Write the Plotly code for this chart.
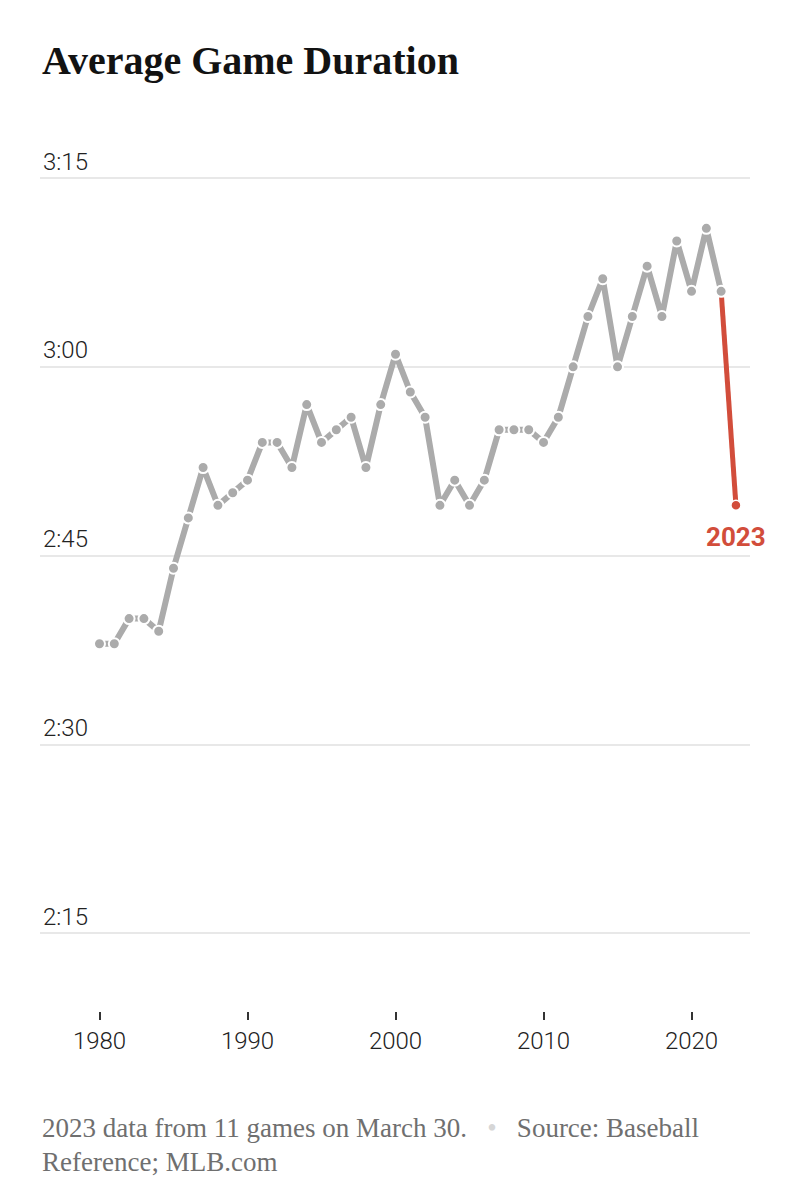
import plotly.graph_objects as go

# ---- data (average game duration in minutes) ----
years = list(range(1980, 2024))
minutes = [158, 158, 160, 160, 159, 164, 168, 172, 169, 170,
           171, 174, 174, 172, 177, 174, 175, 176, 172, 177,
           181, 178, 176, 169, 171, 169, 171, 175, 175, 175,
           174, 176, 180, 184, 187, 180, 184, 188, 184, 190,
           186, 191, 186, 169]
ytick_vals = [135, 150, 165, 180, 195]
ytick_text = ["2:15", "2:30", "2:45", "3:00", "3:15"]
xtick_vals = [1980, 1990, 2000, 2010, 2020]
xtick_text = ["1980", "1990", "2000", "2010", "2020"]
highlight_label = "2023"
title_text = "Average Game Duration"
note_line1 = ("2023 data from 11 games on March 30. &nbsp;&nbsp;<span style='color:#d6d6d6'>•</span>"
              "&nbsp;&nbsp; Source: Baseball")
note_line2 = "Reference; MLB.com"

GRAY = "#ababab"
RED = "#d24d3b"

fig = go.Figure()

# red final segment (drawn underneath so the 2022 gray marker sits on top)
fig.add_trace(go.Scatter(
    x=years[-2:], y=minutes[-2:], mode="lines",
    line=dict(color=RED, width=5), hoverinfo="skip", showlegend=False))

fig.add_trace(go.Scatter(
    x=years[:-1], y=minutes[:-1], mode="lines+markers",
    line=dict(color=GRAY, width=6),
    marker=dict(color=GRAY, size=11, line=dict(color="white", width=2)),
    showlegend=False))

fig.add_trace(go.Scatter(
    x=years[-1:], y=minutes[-1:], mode="markers",
    marker=dict(color=RED, size=10, line=dict(color="white", width=1.5)),
    showlegend=False))

fig.add_annotation(
    x=years[-1], y=minutes[-1], xref="x", yref="y",
    text="<b>" + highlight_label + "</b>", showarrow=False,
    yshift=-32, xanchor="center", yanchor="middle",
    font=dict(family="Roboto", size=26, color=RED))

fig.add_annotation(
    x=0, y=1.0915, xref="paper", yref="paper", text="<b>" + title_text + "</b>",
    showarrow=False, xanchor="left", yanchor="middle",
    font=dict(family="Liberation Serif", size=40, color="#121212"))

fig.add_annotation(
    x=0, y=-0.1343, xref="paper", yref="paper", text=note_line1,
    showarrow=False, xanchor="left", yanchor="middle",
    font=dict(family="Liberation Serif", size=27, color="#6f6f6f"))
fig.add_annotation(
    x=0, y=-0.1733, xref="paper", yref="paper", text=note_line2,
    showarrow=False, xanchor="left", yanchor="middle",
    font=dict(family="Liberation Serif", size=27, color="#6f6f6f"))

fig.update_layout(
    width=783, height=1192,
    margin=dict(l=32, r=41, t=132, b=189),
    paper_bgcolor="white", plot_bgcolor="white",
    showlegend=False,
    xaxis=dict(
        range=[1975.98, 2023.95], tickvals=xtick_vals, ticktext=xtick_text,
        showgrid=False, zeroline=False, showline=False,
        ticks="outside", ticklen=8, tickwidth=1.5, tickcolor="#333",
        tickfont=dict(family="Roboto", size=24, color="#222", weight=300),
        fixedrange=True),
    yaxis=dict(
        range=[128.83, 198.02], tickvals=ytick_vals, ticktext=ytick_text,
        showgrid=True, gridcolor="#e8e8e8", gridwidth=1.5,
        zeroline=False, showline=False, ticks="",
        ticklabelposition="inside top",
        tickfont=dict(family="Roboto", size=24, color="#222", weight=300),
        fixedrange=True),
)

fig.write_html("out.html")
